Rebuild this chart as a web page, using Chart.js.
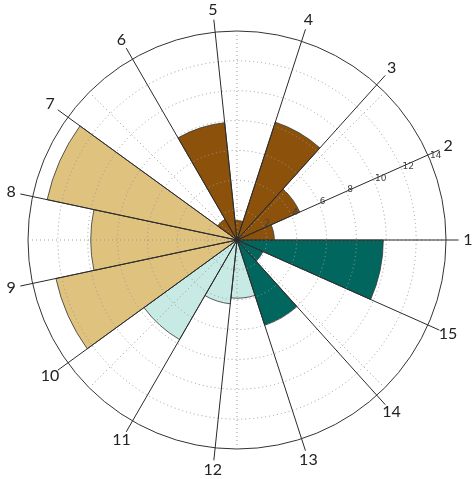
<!DOCTYPE html>
<html>
<head>
<meta charset="utf-8">
<script src="https://cdn.jsdelivr.net/npm/chart.js@4.4.1/dist/chart.umd.min.js"></script>
<style>
  html, body { margin: 0; padding: 0; background: #fff; }
  #wrap { width: 474px; height: 479px; }
</style>
</head>
<body>
<div id="wrap"><canvas id="roseChart"></canvas></div>
<script>
// spokes counter-clockwise from the east
const categories = ['1','2','3','4','5','6','7','8','9','10','11','12','13','14','15'];
// wedge lying between spoke i and spoke i+1
const values = [2.5, 4.6, 8.3, 1.3, 7.9, 1.6, 13.0, 9.8, 12.4, 7.7, 4.3, 3.9, 6.0, 1.9, 9.8];
const groups = ['brown','brown','brown','brown','brown','brown','tan','tan','tan','cyan','cyan','cyan','teal','teal','teal'];
const tickValues = [2, 4, 6, 8, 10, 12, 14];

const palette = { brown: '#8c510a', tan: '#dfc27d', cyan: '#c7eae5', teal: '#01665e' };

// Chart.js runs clockwise, the picture runs the other way
const chartLabels = [categories[0], ...categories.slice(1).reverse()];
const chartValues = values.slice().reverse();
const chartColors = groups.slice().reverse().map(g => palette[g]);

// spokes, spoke labels, 45deg dotted grid and radial tick labels
const roseDecor = {
  id: 'roseDecor',
  afterDraw(chart) {
    const r = chart.scales.r;
    const ctx = chart.ctx;
    const R = r.drawingArea;
    ctx.save();

    ctx.strokeStyle = '#9a9a9a';
    ctx.lineWidth = 1;
    ctx.setLineDash([1, 3]);
    for (let a = 0; a < 360; a += 45) {
      const rad = a * Math.PI / 180;
      ctx.beginPath();
      ctx.moveTo(r.xCenter, r.yCenter);
      ctx.lineTo(r.xCenter + R * Math.cos(rad), r.yCenter - R * Math.sin(rad));
      ctx.stroke();
    }
    ctx.setLineDash([]);

    ctx.strokeStyle = '#2a2a2a';
    ctx.fillStyle = '#222';
    ctx.font = '16px Lato';
    ctx.textAlign = 'center';
    ctx.textBaseline = 'middle';
    chartLabels.forEach((lab, i) => {
      const end = r.getPointPosition(i, R * 1.06);
      ctx.beginPath();
      ctx.moveTo(r.xCenter, r.yCenter);
      ctx.lineTo(end.x, end.y);
      ctx.stroke();
      const pos = r.getPointPosition(i, R + 22);
      ctx.fillText(lab, pos.x, pos.y);
    });

    const tickAngle = 22.5 * Math.PI / 180;
    ctx.font = '9px "DejaVu Sans"';
    ctx.fillStyle = '#444';
    ctx.textAlign = 'left';
    ctx.textBaseline = 'bottom';
    tickValues.forEach(v => {
      const d = r.getDistanceFromCenterForValue(v);
      ctx.fillText(String(v), r.xCenter + d * Math.cos(tickAngle), r.yCenter - d * Math.sin(tickAngle));
    });
    ctx.restore();
  }
};

new Chart(document.getElementById('roseChart'), {
  type: 'polarArea',
  data: {
    labels: chartLabels,
    datasets: [{
      data: chartValues,
      backgroundColor: chartColors,
      borderColor: '#333',
      borderWidth: 0.8
    }]
  },
  options: {
    responsive: true,
    maintainAspectRatio: false,
    animation: false,
    layout: { padding: { top: 31, bottom: 30, left: 28, right: 28 } },
    scales: {
      r: {
        min: 0,
        max: 14,
        startAngle: 90,
        ticks: { display: false, stepSize: 2 },
        grid: {
          z: 1,
          circular: true,
          lineWidth: 1,
          color: c => c.tick.value === 14 ? '#333' : '#9a9a9a'
        },
        border: { dash: c => c.tick.value === 14 ? [] : [1, 3] },
        angleLines: { display: false },
        pointLabels: { display: false }
      }
    },
    plugins: { legend: { display: false }, tooltip: { enabled: false } }
  },
  plugins: [roseDecor]
});
</script>
</body>
</html>
